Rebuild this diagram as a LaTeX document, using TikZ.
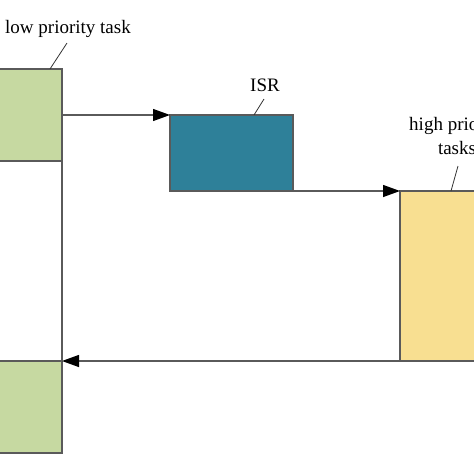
\documentclass[tikz,border=0pt]{standalone}
\usepackage{fontspec}
\setmainfont{Liberation Serif}
\usetikzlibrary{positioning, arrows.meta}

\definecolor{lowgreen}{HTML}{C6D9A1}
\definecolor{isrteal}{HTML}{2E8099}
\definecolor{highyellow}{HTML}{F8DF91}
\definecolor{edge}{HTML}{5A5A5A}

\tikzset{
  taskbox/.style={draw=edge, line width=1.2pt, inner sep=0pt, outer sep=0pt},
  lbl/.style={font=\fontsize{19}{24}\selectfont, inner sep=0pt, align=center},
  flow/.style={draw=edge, line width=1.3pt, -{Triangle[length=17pt,width=12pt,color=black]}},
  leader/.style={draw=black!80, line width=0.8pt}
}

\begin{document}
\begin{tikzpicture}[x=1pt,y=-1pt]
\useasboundingbox (0,0) rectangle (474,474);
\clip (0,0) rectangle (474,474);
% task boxes
\node[taskbox, fill=lowgreen, minimum width=80pt, minimum height=92pt, anchor=north east] (low) at (62,69) {};
\node[taskbox, fill=isrteal, minimum width=123pt, minimum height=76pt, anchor=north west] (isr) at (170,115) {};
\node[taskbox, fill=highyellow, minimum width=90pt, minimum height=170pt, anchor=north west] (high) at (400,191) {};
\node[taskbox, fill=lowgreen, minimum width=80pt, minimum height=92pt, anchor=north east] (lowb) at (62,361) {};
% labels
\node[lbl] (lowlbl) at (68,29) {low priority task};
\node[lbl] (isrlbl) at (265,85) {ISR};
\node[lbl] (highlbl) at (457,136) {high priority\\tasks};
\coordinate (lowtick) at (67,43);
\coordinate (isrtick) at (264,99);
\coordinate (hightick) at (458,166);
\draw[leader] (lowtick) -- ([xshift=-12pt]low.north east);
\draw[leader] (isrtick) -- ([xshift=-39pt]isr.north east);
\draw[leader] (hightick) -- ([xshift=51pt]high.north west);
% flow
\draw[flow] (low.east) -- (low.east -| isr.west);
\draw[flow] (isr.south east) -- (isr.south east -| high.west);
\draw[flow] (high.south west) -- (high.south west -| lowb.east);
\draw[draw=edge, line width=1.3pt] (low.south east) -- (low.south east |- lowb.north);
\end{tikzpicture}
\end{document}
